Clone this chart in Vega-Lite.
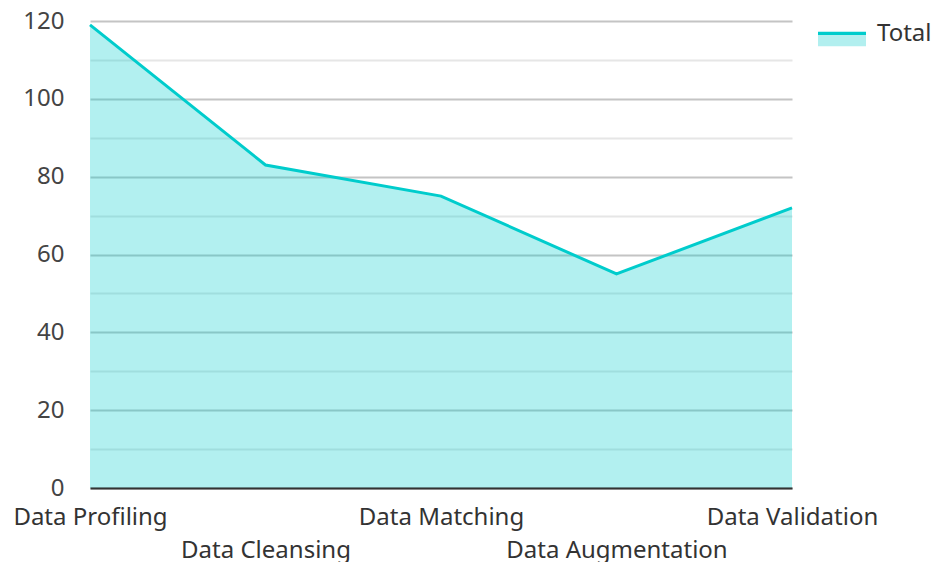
{
  "$schema": "https://vega.github.io/schema/vega-lite/v6.json",
  "autosize": "none",
  "width": 702,
  "height": 467,
  "padding": {"left": 90, "top": 21, "right": 141, "bottom": 74},
  "background": "white",
  "config": {
    "view": {"stroke": null},
    "font": "Noto Sans"
  },
  "data": {
    "values": [
      {"stage": "Data Profiling", "total": 119, "series": "Total"},
      {"stage": "Data Cleansing", "total": 83, "series": "Total"},
      {"stage": "Data Matching", "total": 75, "series": "Total"},
      {"stage": "Data Augmentation", "total": 55, "series": "Total"},
      {"stage": "Data Validation", "total": 72, "series": "Total"}
    ]
  },
  "encoding": {
    "x": {
      "field": "stage",
      "type": "ordinal",
      "sort": null,
      "scale": {"type": "point", "padding": 0},
      "axis": {
        "title": null,
        "labelAngle": 0,
        "ticks": false,
        "grid": false,
        "domainColor": "#333333",
        "domainWidth": 2,
        "labelFontSize": 24,
        "labelLimit": 400,
        "labelColor": "#333333",
        "labelBaseline": "top",
        "labelPadding": {"expr": "indexof(['Data Cleansing','Data Augmentation'], datum.value) >= 0 ? 50 : 17"},
        "zindex": 1
      }
    },
    "y": {
      "field": "total",
      "type": "quantitative",
      "scale": {"domain": [0, 120], "nice": false},
      "axis": {
        "title": null,
        "values": [0, 10, 20, 30, 40, 50, 60, 70, 80, 90, 100, 110, 120],
        "labelExpr": "datum.value % 20 === 0 ? datum.label : ''",
        "domain": false,
        "ticks": false,
        "labelPadding": 26,
        "labelFontSize": 24,
        "labelColor": "#444444",
        "gridColor": {"expr": "datum.value % 20 === 0 ? '#c4c4c4' : '#e6e6e6'"},
        "gridWidth": 2
      }
    }
  },
  "layer": [
    {
      "mark": {"type": "area", "color": "#00cccc", "opacity": 0.3}
    },
    {
      "mark": {"type": "line", "strokeWidth": 3},
      "encoding": {
        "color": {
          "field": "series",
          "type": "nominal",
          "scale": {"range": ["#00cccc"]},
          "legend": {
            "title": null,
            "orient": "none",
            "legendX": 728,
            "legendY": -6,
            "padding": 0,
            "symbolType": "M-1,-0.3H1V0.3H-1Z",
            "symbolSize": 2304,
            "symbolStrokeWidth": 0,
            "labelFontSize": 24,
            "labelColor": "#333333",
            "labelOffset": 11,
            "encode": {
              "labels": {"update": {"dy": {"value": -5}}},
              "symbols": {
                "update": {
                  "fill": {"value": {"gradient": "linear", "x1": 0, "y1": 0, "x2": 0, "y2": 1, "stops": [
                    {"offset": 0, "color": "#00cccc"},
                    {"offset": 0.22, "color": "#00cccc"},
                    {"offset": 0.22, "color": "#b2efef"},
                    {"offset": 1, "color": "#b2efef"}
                  ]}},
                  "fillOpacity": {"value": 1},
                  "strokeWidth": {"value": 0}
                }
              }
            }
          }
        }
      }
    }
  ]
}
